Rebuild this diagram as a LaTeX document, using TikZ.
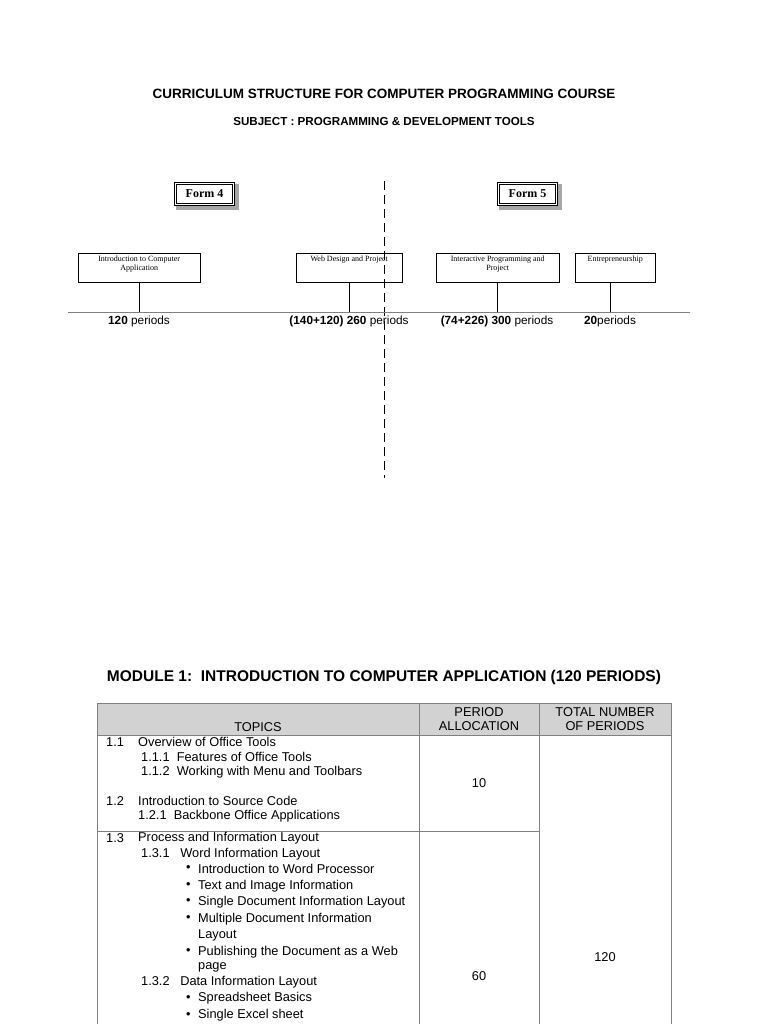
\documentclass[tikz,border=0pt]{standalone}
\usepackage{fontspec}
\setmainfont{Liberation Sans}
\newfontfamily\serifx{Liberation Serif}
\begin{document}
\begin{tikzpicture}[x=1pt,y=-1pt,
  tiny/.style={draw,anchor=north west,inner sep=1pt},
  tt/.style={anchor=north,font=\serifx\fontsize{8}{8.5}\selectfont,inner sep=3pt,align=center},
  formbox/.style={draw,double,double distance=1.2pt,line width=0.8pt,font=\serifx\bfseries\fontsize{12}{13}\selectfont,minimum width=58pt,minimum height=21pt},
  per/.style={font=\fontsize{11.8}{13}\selectfont},
  tx/.style={anchor=west,font=\fontsize{12.8}{14}\selectfont,inner sep=0pt},
  hd/.style={font=\fontsize{12.8}{14}\selectfont,align=center}]
\useasboundingbox[fill=white] (0,0) rectangle (768,1024);
\node (title) at (384,94) {\bfseries\fontsize{13.5}{15}\selectfont CURRICULUM STRUCTURE FOR COMPUTER PROGRAMMING COURSE};
\node (sub) at (384,122) {\bfseries\fontsize{11.6}{13}\selectfont SUBJECT : PROGRAMMING \& DEVELOPMENT TOOLS};
\fill[gray!70] (176,184) rectangle (239,210);
\fill[gray!70] (499,184) rectangle (562,210);
\node[formbox,fill=white] (f4) at (204.5,194) {Form 4};
\node[formbox,fill=white] (f5) at (527.5,194) {Form 5};
\coordinate (dtop) at (384,181);
\coordinate (dbot) at (384,478);
\draw[dashed,dash pattern=on 9pt off 5pt] (dtop) -- (dbot);
\draw[gray] (68,312) coordinate (l0) -- (690,312) coordinate (l1);
\node[tiny,minimum width=122pt,minimum height=29pt] (b1) at (78,253) {};
\node[tt] at (b1.north) {Introduction to Computer\\Application};
\node[tiny,minimum width=106pt,minimum height=29pt] (b2) at (296,253) {};
\node[tt] at (b2.north) {Web Design and Project};
\node[tiny,minimum width=123pt,minimum height=29pt] (b3) at (436,253) {};
\node[tt] at (b3.north) {Interactive Programming and\\Project};
\node[tiny,minimum width=80pt,minimum height=29pt] (b4) at (575,253) {};
\node[tt] at (b4.north) {Entrepreneurship};
\node[per] (p1) at (139,321) {\textbf{120} periods};
\node[per] (p2) at (349,321) {\textbf{(140+120) 260} periods};
\node[per] (p3) at (497,321) {\textbf{(74+226) 300} periods};
\node[per] (p4) at (610,321) {\textbf{20}periods};
\draw (b1.south) -- (b1.south |- l0);
\draw (349,282) -- (349,312);
\draw (497,282) -- (497,312);
\draw (610,282) -- (610,312);
% module
\node (mod) at (384,677) {\bfseries\fontsize{15.5}{17}\selectfont MODULE 1:\ \ INTRODUCTION TO COMPUTER APPLICATION (120 PERIODS)};
\fill[gray!35] (97,703) rectangle (671,735);
\draw[gray] (97,703) rectangle (671,1040);
\draw[gray] (97,735) -- (671,735);
\draw[gray] (419,703) -- (419,1040);
\draw[gray] (539,703) -- (539,1040);
\draw[gray] (97,831) -- (539,831);
\node[hd] (h1) at (258,727) {TOPICS};
\node[hd] (h2) at (479,719) {PERIOD\\ALLOCATION};
\node[hd] (h3) at (605,719) {TOTAL NUMBER\\OF PERIODS};
\node[tx] at (106,742) {1.1};
\node[tx] at (138,742) {Overview of Office Tools};
\node[tx] at (141,757) {1.1.1\ \ Features of Office Tools};
\node[tx] at (141,772) {1.1.2\ \ Working with Menu and Toolbars};
\node[tx] at (106,801) {1.2};
\node[tx] at (138,801) {Introduction to Source Code};
\node[tx] at (138,816) {1.2.1\ \ Backbone Office Applications};
\node[tx] at (106,838) {1.3};
\node[tx] at (138,838) {Process and Information Layout};
\node[tx] at (141,854) {1.3.1\ \ \ Word Information Layout};
\foreach \y/\t in {869/Introduction to Word Processor,886/Text and Image Information,902/Single Document Information Layout,919/Multiple Document Information,952/Publishing the Document as a Web,998/Spreadsheet Basics,1015/Single Excel sheet}{
  \node[tx] at (186,\y) {\textbullet};
  \node[tx] at (198,\y) {\t};}
\node[tx] at (198,935) {Layout};
\node[tx] at (198,967) {page};
\node[tx] at (141,982) {1.3.2\ \ \ Data Information Layout};
\node[hd] at (479,783) {10};
\node[hd] at (479,976) {60};
\node[hd] at (605,957) {120};
\end{tikzpicture}
\end{document}
